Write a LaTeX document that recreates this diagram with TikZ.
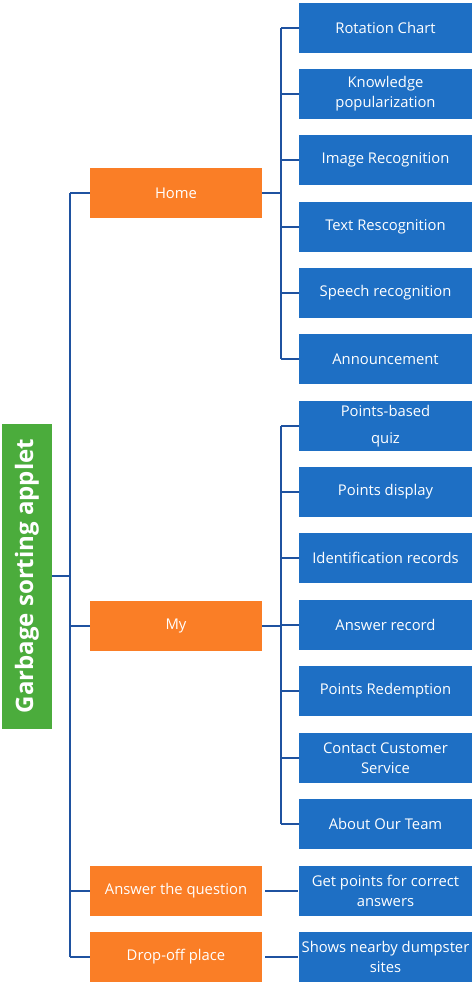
\documentclass[tikz,border=0pt]{standalone}
\usepackage{fontspec}
\setmainfont{Open Sans}
\begin{document}
\begin{tikzpicture}[x=1pt,y=-1pt,
  blue box/.style={fill={rgb,255:red,30;green,111;blue,196}, text=white, minimum width=173pt, minimum height=50pt, inner sep=0pt, align=center, font=\fontsize{14.8}{20}\selectfont},
  orange box/.style={fill={rgb,255:red,250;green,126;blue,38}, text=white, minimum width=172pt, minimum height=50pt, inner sep=0pt, align=center, font=\fontsize{14.8}{20}\selectfont},
  link/.style={draw={rgb,255:red,31;green,82;blue,160}, line width=1.6pt}]
\useasboundingbox (0,0) rectangle (474,986);
% root
\node[fill={rgb,255:red,75;green,172;blue,60}, minimum width=50pt, minimum height=305pt, inner sep=0pt] (root) at (27,576) {};
\node[rotate=90, text=white, font=\bfseries\fontsize{24}{28}\selectfont] (roottext) at (root.center) {Garbage sorting applet};
% level 1
\node[orange box] (home) at (176,193) {Home};
\node[orange box] (my) at (176,626) {My};
\node[orange box] (ans) at (176,891) {Answer the question};
\node[orange box] (drop) at (176,957) {Drop-off place};
% level 2
\node[blue box] (b1) at (385.5,28) {Rotation Chart};
\node[blue box] (b2) at (385.5,94) {Knowledge\\popularization};
\node[blue box] (b3) at (385.5,160) {Image Recognition};
\node[blue box] (b4) at (385.5,227) {Text Rescognition};
\node[blue box] (b5) at (385.5,293) {Speech recognition};
\node[blue box] (b6) at (385.5,359) {Announcement};
\node[blue box, font=\fontsize{14.8}{27}\selectfont] (b7) at (385.5,426) {Points-based\\quiz};
\node[blue box] (b8) at (385.5,492) {Points display};
\node[blue box] (b9) at (385.5,558) {Identification records};
\node[blue box] (b10) at (385.5,625) {Answer record};
\node[blue box] (b11) at (385.5,691) {Points Redemption};
\node[blue box] (b12) at (385.5,758) {Contact Customer\\Service};
\node[blue box] (b13) at (385.5,824) {About Our Team};
\node[blue box] (b14) at (385.5,891) {Get points for correct\\answers};
\node[blue box] (b15) at (385.5,957) {Shows nearby dumpster\\sites};
% trunk coordinates
\coordinate (t0) at (70,576);
\coordinate (th) at (281,193);
\coordinate (tm) at (281,626);
% root links
\draw[link] (root.east) -- (t0);
\draw[link] (home.west -| t0) -- (drop.west -| t0);
\foreach \n in {home,my,ans,drop} \draw[link] (\n.west -| t0) -- (\n.west);
% home links
\draw[link] (home.east) -- (th);
\draw[link] (b1.west -| th) -- (b6.west -| th);
\foreach \n in {b1,b2,b3,b4,b5,b6} \draw[link] (\n.west -| th) -- (\n.west);
% my links
\draw[link] (my.east) -- (tm);
\draw[link] (b7.west -| tm) -- (b13.west -| tm);
\foreach \n in {b7,b8,b9,b10,b11,b12,b13} \draw[link] (\n.west -| tm) -- (\n.west);
% direct links
\draw[link] ([xshift=3pt]ans.east) -- ([xshift=-1pt]b14.west);
\draw[link] ([xshift=3pt]drop.east) -- ([xshift=-1pt]b15.west);
\end{tikzpicture}
\end{document}
